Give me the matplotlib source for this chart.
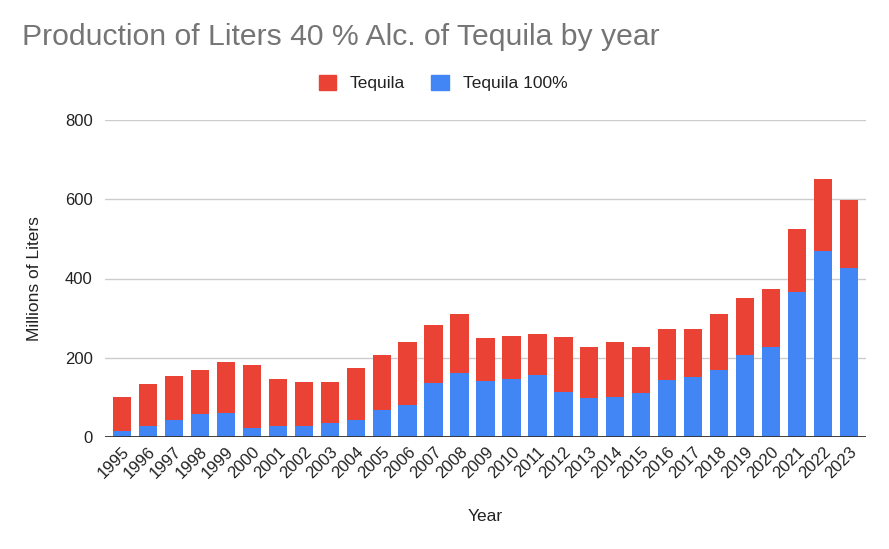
import matplotlib.pyplot as plt
import numpy as np
from matplotlib.patches import Patch

plt.rcParams['font.family'] = ['Liberation Sans', 'DejaVu Sans']

years = [str(y) for y in range(1995, 2024)]
# total production (top of stack) and the 100% agave part, millions of liters
total = [102, 133, 155, 170, 190, 182, 147, 140, 140, 173, 208, 241, 283, 311, 250,
         256, 261, 252, 227, 241, 227, 272, 272, 310, 352, 374, 525, 650, 598]
tequila_100 = [16, 27, 42, 57, 61, 23, 27, 27, 35, 42, 68, 80, 137, 162, 141,
               147, 156, 113, 98, 102, 110, 144, 151, 170, 208, 227, 367, 470, 427]
tequila = [t - p for t, p in zip(total, tequila_100)]

RED = '#ea4335'
BLUE = '#4285f4'

fig = plt.figure(figsize=(8.89, 5.49), dpi=100)
ax = fig.add_axes([105/889, 112/549, 761/889, 317/549])

x = np.arange(len(years))
ax.bar(x, tequila_100, width=0.7, color=BLUE, zorder=3)
ax.bar(x, tequila, bottom=tequila_100, width=0.7, color=RED, zorder=3)

ax.set_xlim(-0.65, len(years) - 0.35)
ax.set_ylim(0, 800)
ax.set_yticks([0, 200, 400, 600, 800])
ax.yaxis.grid(True, color='#cccccc', linewidth=1)
ax.axhline(0, color='#333333', linewidth=1.3, zorder=4)
for s in ax.spines.values():
    s.set_visible(False)
ax.tick_params(axis='both', length=0, labelsize=12, colors='#222222')
ax.tick_params(axis='y', pad=9)
ax.set_xticks(x)
ax.set_xticklabels(years, rotation=45, ha='right', rotation_mode='anchor')
ax.tick_params(axis='x', pad=5)

ax.set_ylabel('Millions of Liters', fontsize=12.5, color='#222222', labelpad=16)
ax.set_xlabel('Year', fontsize=12.5, color='#222222', labelpad=20)

fig.text(22/889, 1 - 37/549, 'Production of Liters 40 % Alc. of Tequila by year',
         fontsize=21.7, color='#757575', va='center', ha='left')

handles = [Patch(color=RED, label='Tequila'), Patch(color=BLUE, label='Tequila 100%')]
fig.legend(handles=handles, loc='center', bbox_to_anchor=(443/889, 1 - 83/549),
           ncol=2, frameon=False, fontsize=12.5, handlelength=1.0, handleheight=1.0,
           handletextpad=0.8, columnspacing=1.5, labelcolor='#222222')

fig.savefig('out.png', dpi=100, facecolor='white')
